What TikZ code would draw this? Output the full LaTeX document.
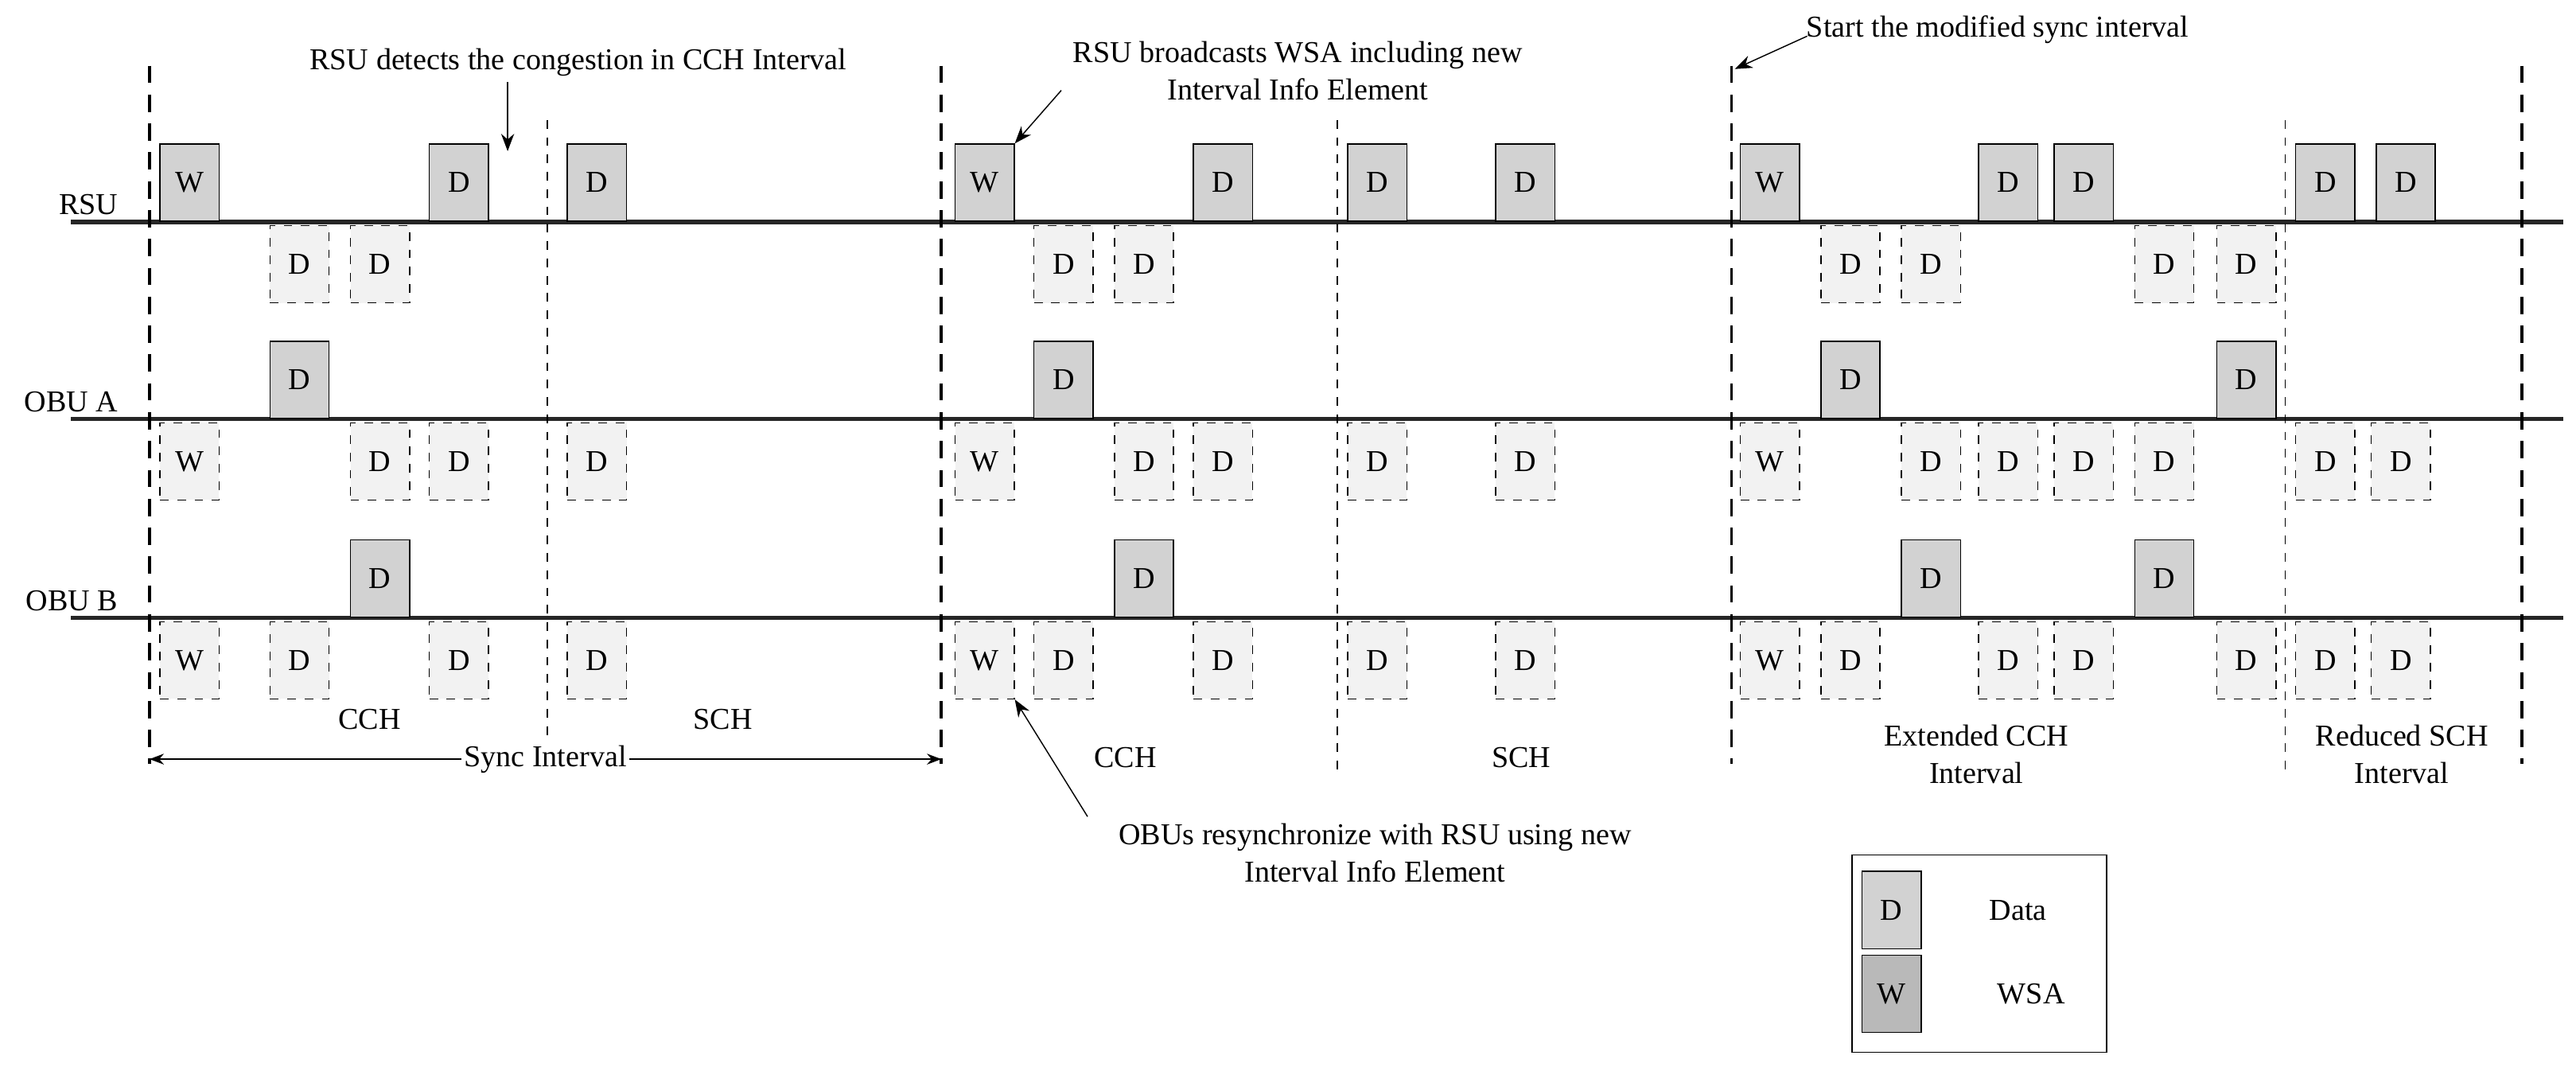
\documentclass[tikz,border=0pt]{standalone}
\usepackage{fontspec}
\setmainfont{Liberation Serif}
\usetikzlibrary{arrows.meta,positioning}
\begin{document}
\begin{tikzpicture}[x=0.02cm, y=-0.02cm,
    font=\fontsize{10.5}{13}\selectfont,
    pkt/.style={draw=black, minimum width=0.72cm, minimum height=0.94cm, inner sep=0pt},
    dpkt/.style={pkt, fill=gray!35},
    wpkt/.style={pkt, fill=gray!55},
    rpkt/.style={pkt, dashed, fill=gray!10},
    tline/.style={line width=1.6pt, black!85},
    bigdash/.style={dashed, line width=1pt, dash pattern=on 6pt off 4pt},
    thindash/.style={dashed, line width=0.5pt},
    arr/.style={-{Stealth[length=6pt]}, thin},
    lbl/.style={align=center},
]
\useasboundingbox (0,0) rectangle (1568,649);

% Time lines
\foreach \name/\y/\txt in {rsu/135/RSU, obua/255/OBU A, obub/376/OBU B} {
  \coordinate (\name-l) at (43,\y);
  \coordinate (\name-r) at (1560,\y);
  \draw[tline] (\name-l) -- (\name-r);
}
\node[anchor=south east] (lrsu) at (78,137) {RSU};
\node[anchor=south east] (lobua) at (78,257) {OBU A};
\node[anchor=south east] (lobub) at (78,378) {OBU B};

% Interval boundaries
\foreach \x [count=\i] in {91,573,1054,1535} {
  \coordinate (bt\i) at (\x,40);
  \coordinate (bb\i) at (\x,465);
  \draw[bigdash] (bt\i) -- (bb\i);
}
\foreach \x [count=\i] in {333,814,1391} {
  \coordinate (st\i) at (\x,73);
  \coordinate (sb\i) at (\x,470);
  \draw[thindash] (st\i) -- (sb\i);
}

% RSU packets
\foreach \x/\t [count=\i] in {97/W,261/D,345/D,581/W,726/D,820/D,910/D,1059/W,1204/D,1250/D,1397/D,1446/D}
  \node[\ifx\t W wpkt\else dpkt\fi, anchor=south west] (ra\i) at (\x,135) {\t};
\foreach \x [count=\i] in {164,213,629,678,1108,1157,1299,1349}
  \node[rpkt, anchor=north west] (rb\i) at (\x,137) {D};

% OBU A packets
\foreach \x [count=\i] in {164,629,1108,1349}
  \node[dpkt, anchor=south west] (aa\i) at (\x,255) {D};
\foreach \x/\t [count=\i] in {97/W,213/D,261/D,345/D,581/W,678/D,726/D,820/D,910/D,1059/W,1157/D,1204/D,1250/D,1299/D,1397/D,1443/D}
  \node[rpkt, anchor=north west] (ab\i) at (\x,257) {\t};

% OBU B packets
\foreach \x [count=\i] in {213,678,1157,1299}
  \node[dpkt, anchor=south west] (ba\i) at (\x,376) {D};
\foreach \x/\t [count=\i] in {97/W,164/D,261/D,345/D,581/W,629/D,726/D,820/D,910/D,1059/W,1108/D,1204/D,1250/D,1349/D,1397/D,1443/D}
  \node[rpkt, anchor=north west] (bb-\i) at (\x,378) {\t};

% Interval labels
\node (cch1) at (225,438) {CCH};
\node (sch1) at (440,438) {SCH};
\node (cch2) at (685,461) {CCH};
\node (sch2) at (926,461) {SCH};
\node[lbl] (ext) at (1203,459) {Extended CCH\\Interval};
\node[lbl] (red) at (1462,459) {Reduced SCH\\Interval};
\draw[{Stealth[length=5pt]}-{Stealth[length=5pt]}, thin] (91,462) -- node[fill=white, inner sep=1pt] (sync) {Sync Interval} (573,462);

% Annotations
\node (det) at (352,38) {RSU detects the congestion in CCH Interval};
\coordinate (det-a) at (309,50);
\coordinate (det-b) at (309,92);
\draw[arr] (det-a) -- (det-b);

\node[lbl] (bcast) at (790,43) {RSU broadcasts WSA including new\\Interval Info Element};
\coordinate (bcast-a) at (646,55);
\draw[arr] (bcast-a) -- (ra4.north east);

\node (start) at (1216,18) {Start the modified sync interval};
\coordinate (start-a) at (1100,22);
\coordinate (start-b) at (1056,42);
\draw[arr] (start-a) -- (start-b);

\node[lbl] (resync) at (837,519) {OBUs resynchronize with RSU using new\\Interval Info Element};
\coordinate (resync-a) at (662,497);
\draw[arr] (resync-a) -- (bb-5.south east);

% Legend
\node[draw, minimum width=3.1cm, minimum height=2.4cm, inner sep=0pt, anchor=north west] (legend) at (1127,520) {};
\node[dpkt, anchor=north west] (lgd) at (1133,530) {D};
\node[wpkt, anchor=north west] (lgw) at (1133,581) {W};
\node[right=0.7cm of lgd] (lgdt) {Data};
\node[right=0.8cm of lgw] (lgwt) {WSA};
\end{tikzpicture}
\end{document}
